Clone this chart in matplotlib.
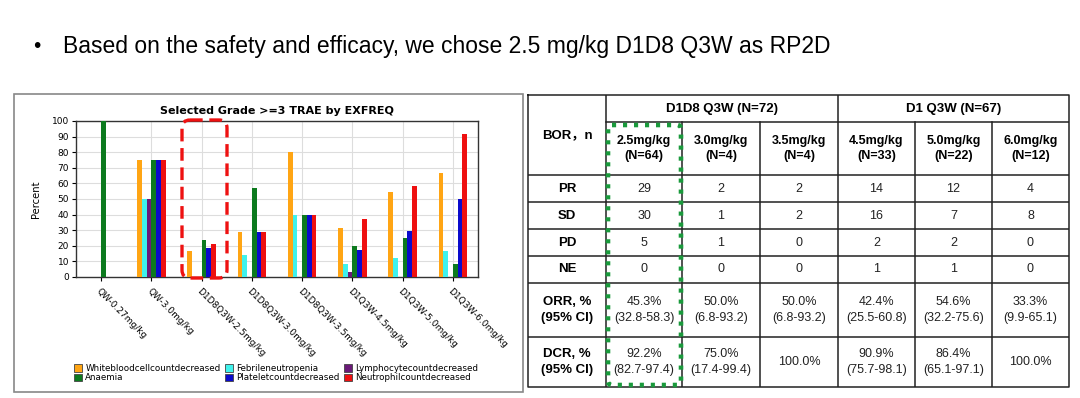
import numpy as np
import matplotlib
matplotlib.use('Agg')
from matplotlib import pyplot as plt
from matplotlib.patches import Patch, FancyBboxPatch, Rectangle

# ---- chart data (Selected Grade >=3 TRAE by EXFREQ) ----
groups = ['QW-0.27mg/kg', 'QW-3.0mg/kg', 'D1D8Q3W-2.5mg/kg', 'D1D8Q3W-3.0mg/kg',
          'D1D8Q3W-3.5mg/kg', 'D1Q3W-4.5mg/kg', 'D1Q3W-5.0mg/kg', 'D1Q3W-6.0mg/kg']
wbc = [0, 75, 16.9, 28.6, 80, 31.4, 54.2, 66.7]
febrile = [0, 50, 0, 14.3, 40, 8.6, 12.5, 16.7]
lympho = [0, 50, 0, 0, 0, 2.9, 0, 0]
anaemia = [100, 75, 23.6, 57.1, 40, 20.0, 25.0, 8.3]
platelet = [0, 75, 18.8, 28.6, 40, 17.1, 29.2, 50]
neutro = [0, 75, 20.9, 28.6, 40, 37.1, 58.3, 91.7]

series_names = ['Whitebloodcellcountdecreased', 'Febrileneutropenia', 'Lymphocytecountdecreased',
                'Anaemia', 'Plateletcountdecreased', 'Neutrophilcountdecreased']
series_vals = [wbc, febrile, lympho, anaemia, platelet, neutro]
series_cols = ['#FFA514', '#3FF2EC', '#6A1A78', '#0C7A1E', '#0A0ACC', '#EE1010']

# ---- table data ----
grp_heads = ['D1D8 Q3W (N=72)', 'D1 Q3W (N=67)']
dose_heads = ['2.5mg/kg\n(N=64)', '3.0mg/kg\n(N=4)', '3.5mg/kg\n(N=4)',
              '4.5mg/kg\n(N=33)', '5.0mg/kg\n(N=22)', '6.0mg/kg\n(N=12)']
row_labels = ['PR', 'SD', 'PD', 'NE', 'ORR, %\n(95% CI)', 'DCR, %\n(95% CI)']
pr = ['29', '2', '2', '14', '12', '4']
sd = ['30', '1', '2', '16', '7', '8']
pd_ = ['5', '1', '0', '2', '2', '0']
ne = ['0', '0', '0', '1', '1', '0']
orr = ['45.3%\n(32.8-58.3)', '50.0%\n(6.8-93.2)', '50.0%\n(6.8-93.2)',
       '42.4%\n(25.5-60.8)', '54.6%\n(32.2-75.6)', '33.3%\n(9.9-65.1)']
dcr = ['92.2%\n(82.7-97.4)', '75.0%\n(17.4-99.4)', '100.0%',
       '90.9%\n(75.7-98.1)', '86.4%\n(65.1-97.1)', '100.0%']
table_rows = [pr, sd, pd_, ne, orr, dcr]

W, H = 1080, 398
fig = plt.figure(figsize=(W / 100, H / 100), dpi=100)
fig.patch.set_facecolor('white')

# headline
fig.text(33 / W, 1 - 46 / H, '\u2022', fontsize=15, family='Liberation Sans', va='center')
fig.text(63 / W, 1 - 46 / H, 'Based on the safety and efficacy, we chose 2.5 mg/kg D1D8 Q3W as RP2D',
         fontsize=16.5, family='Liberation Sans', va='center')

# ---- bar chart ----
ax = fig.add_axes([76 / W, 1 - 277 / H, 402 / W, 156 / H])
x = np.arange(len(groups))
bw = 0.094
for i, (name, vals, col) in enumerate(zip(series_names, series_vals, series_cols)):
    ax.bar(x + (i - 2.5) * bw, vals, width=bw, color=col, label=name, zorder=3)
ax.set_xlim(-0.5, len(groups) - 0.5)
ax.set_ylim(0, 100)
ax.set_yticks(np.arange(0, 101, 10))
ax.set_xticks(x)
ax.set_xticklabels(groups, rotation=-45, ha='left', va='top', rotation_mode='anchor', fontsize=6.5)
ax.tick_params(axis='y', labelsize=6.5, length=3, width=0.8, pad=2)
ax.tick_params(axis='x', length=3, width=0.8, pad=4)
ax.grid(True, color='#dddddd', linewidth=0.8, zorder=0)
ax.set_axisbelow(True)
for s in ax.spines.values():
    s.set_color('#333333')
    s.set_linewidth(1)
ax.set_ylabel('Percent', fontsize=7.2, labelpad=8)
ax.set_title('Selected Grade >=3 TRAE by EXFREQ', fontsize=8, fontweight='bold', pad=5)

order = [0, 3, 1, 4, 2, 5]
hnd = [Patch(facecolor=series_cols[k], edgecolor='#444444', linewidth=0.6) for k in order]
fig.legend(hnd, [series_names[k] for k in order], loc='upper left',
           bbox_to_anchor=(74 / W, 1 - 364 / H), ncol=3, frameon=False, fontsize=6.3,
           handlelength=0.9, handleheight=0.9, handletextpad=0.4, columnspacing=0.5,
           labelspacing=0.05, borderaxespad=0, borderpad=0)

# ---- table ----
col_w = [78, 76, 78, 78, 77, 77, 77]
row_h = [27, 53, 27, 27, 27, 27, 54, 50]
tx0, ty0 = 528, 95
tw, th = sum(col_w), sum(row_h)
axt = fig.add_axes([tx0 / W, 1 - (ty0 + th) / H, tw / W, th / H])
axt.set_xlim(0, tw)
axt.set_ylim(th, 0)
axt.axis('off')
cx = np.concatenate([[0], np.cumsum(col_w)])
ry = np.concatenate([[0], np.cumsum(row_h)])
lc, lw = '#222222', 1.1
axt.plot([0, tw, tw, 0, 0], [0, 0, th, th, 0], color=lc, lw=lw, clip_on=False)
axt.plot([cx[1], tw], [ry[1], ry[1]], color=lc, lw=lw)
for yy in ry[2:-1]:
    axt.plot([0, tw], [yy, yy], color=lc, lw=lw)
for j in range(1, 7):
    top = 0 if j in (1, 4) else ry[1]
    axt.plot([cx[j], cx[j]], [top, th], color=lc, lw=lw)
fam = ['Liberation Sans', 'Noto Sans CJK SC']
axt.text(cx[1] / 2, ry[2] / 2, 'BOR\uff0cn', ha='center', va='center', fontsize=9.5,
         fontweight='bold', family=fam)
axt.text((cx[1] + cx[4]) / 2, ry[1] / 2, grp_heads[0], ha='center', va='center',
         fontsize=9.5, fontweight='bold', family=fam)
axt.text((cx[4] + cx[7]) / 2, ry[1] / 2, grp_heads[1], ha='center', va='center',
         fontsize=9.5, fontweight='bold', family=fam)
for j, t in enumerate(dose_heads):
    axt.text((cx[j + 1] + cx[j + 2]) / 2, (ry[1] + ry[2]) / 2, t, ha='center', va='center',
             fontsize=9, fontweight='bold', family=fam, linespacing=1.35)
for r, (lab, vals) in enumerate(zip(row_labels, table_rows)):
    yc = (ry[r + 2] + ry[r + 3]) / 2
    axt.text(cx[1] / 2, yc, lab, ha='center', va='center', fontsize=9.5, fontweight='bold',
             family=fam, linespacing=1.35)
    for j, v in enumerate(vals):
        axt.text((cx[j + 1] + cx[j + 2]) / 2, yc, v, ha='center', va='center', fontsize=9,
                 family=fam, linespacing=1.35, color='#222222')

# ---- overlay: panel frame and highlight boxes ----
ov = fig.add_axes([0, 0, 1, 1], zorder=10)
ov.set_xlim(0, W)
ov.set_ylim(H, 0)
ov.axis('off')
ov.patch.set_alpha(0)
ov.add_patch(Rectangle((14, 94), 509, 298, fill=False, edgecolor='#888888', lw=1.2))
ov.add_patch(FancyBboxPatch((182, 120), 45, 158, boxstyle='round,pad=0,rounding_size=8',
                            fill=False, edgecolor='#EE1111', lw=2.4, linestyle=(0, (3.8, 2.0)),
                            capstyle='butt'))
ov.add_patch(FancyBboxPatch((608, 125), 73, 260, boxstyle='round,pad=0,rounding_size=4',
                            fill=False, edgecolor='#1A9A3C', lw=3.3, linestyle=(0, (0.9, 1.5)),
                            capstyle='butt'))

fig.savefig('out.png', dpi=100, facecolor='white')
